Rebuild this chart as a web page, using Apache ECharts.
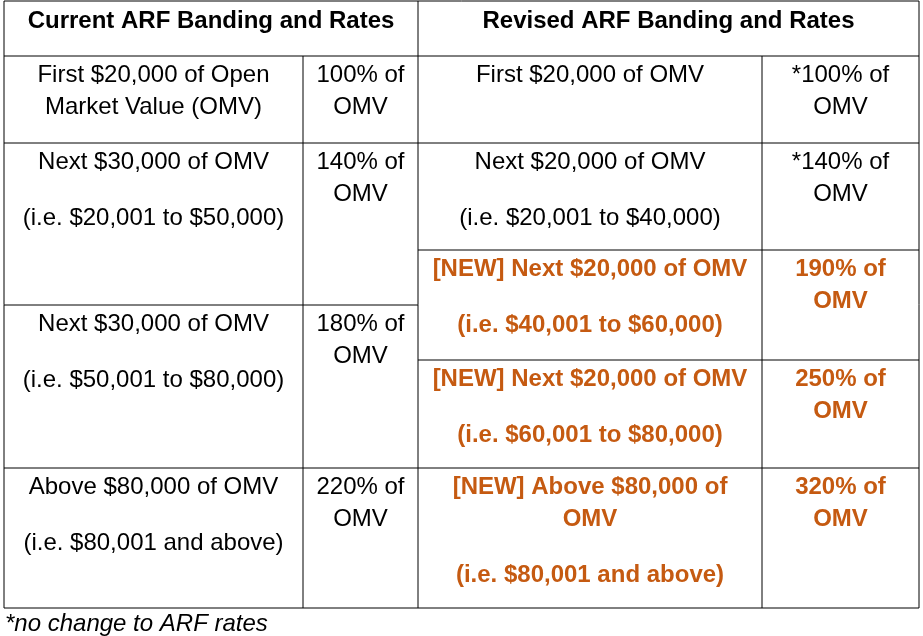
<!DOCTYPE html>
<html><head><meta charset="utf-8">
<script src="https://cdn.jsdelivr.net/npm/echarts@6/dist/echarts.min.js"></script>
<style>html,body{margin:0;padding:0;background:#fff}#main{width:923px;height:636px}</style>
</head><body><div id="main"></div>
<script>
// table grid
var colEdges = [4, 303, 418, 762, 919];
var leftRows = [1, 56, 143, 305, 468, 608];
var rightRows = [1, 56, 143, 250, 360, 468, 608];
var headers = ['Current ARF Banding and Rates', 'Revised ARF Banding and Rates'];
// each cell: \n wraps, | new paragraph
var leftBands = ['First $20,000 of Open\nMarket Value (OMV)', 'Next $30,000 of OMV|(i.e. $20,001 to $50,000)',
  'Next $30,000 of OMV|(i.e. $50,001 to $80,000)', 'Above $80,000 of OMV|(i.e. $80,001 and above)'];
var leftRates = ['100% of\nOMV', '140% of\nOMV', '180% of\nOMV', '220% of\nOMV'];
var rightBands = ['First $20,000 of OMV', 'Next $20,000 of OMV|(i.e. $20,001 to $40,000)',
  '[NEW] Next $20,000 of OMV|(i.e. $40,001 to $60,000)', '[NEW] Next $20,000 of OMV|(i.e. $60,001 to $80,000)',
  '[NEW] Above $80,000 of\nOMV|(i.e. $80,001 and above)'];
var rightRates = ['*100% of\nOMV', '*140% of\nOMV', '190% of\nOMV', '250% of\nOMV', '320% of\nOMV'];
var newBand = [false, false, true, true, true];
var footnote = '*no change to ARF rates';

var orange = '#c55a11';
var els = [];
function line(x1, y1, x2, y2) {
  els.push({type: 'line', shape: {x1: x1, y1: y1, x2: x2, y2: y2}, style: {stroke: '#000', lineWidth: 1}});
}
function cellText(txt, c0, c1, top, bold, color) {
  var y = top + 19;
  txt.split('|').forEach(function (para, pi) {
    if (pi > 0) y += 56;
    para.split('\n').forEach(function (ln, li) {
      if (li > 0) y += 32;
      els.push({type: 'text', x: (colEdges[c0] + colEdges[c1]) / 2, y: y,
        style: {text: ln, fill: color, font: (bold ? 'bold ' : '') + '24px "Liberation Sans", Arial',
          textAlign: 'center', textVerticalAlign: 'middle'}});
    });
  });
}
// borders
line(colEdges[0], 1, colEdges[4], 1);
leftRows.slice(1).forEach(function (y) { line(colEdges[0], y, colEdges[2], y); });
rightRows.slice(1).forEach(function (y) { line(colEdges[2], y, colEdges[4], y); });
line(colEdges[0], 1, colEdges[0], 608);
line(colEdges[2], 1, colEdges[2], 608);
line(colEdges[4], 1, colEdges[4], 608);
line(colEdges[1], 56, colEdges[1], 608);
line(colEdges[3], 56, colEdges[3], 608);
// headers
els.push({type: 'text', x: (colEdges[0] + colEdges[2]) / 2, y: 21, style: {text: headers[0], fill: '#000',
  font: 'bold 24px "Liberation Sans", Arial', textAlign: 'center', textVerticalAlign: 'middle'}});
els.push({type: 'text', x: (colEdges[2] + colEdges[4]) / 2, y: 21, style: {text: headers[1], fill: '#000',
  font: 'bold 24px "Liberation Sans", Arial', textAlign: 'center', textVerticalAlign: 'middle'}});
leftBands.forEach(function (t, i) {
  cellText(t, 0, 1, leftRows[i + 1], false, '#000');
  cellText(leftRates[i], 1, 2, leftRows[i + 1], false, '#000');
});
rightBands.forEach(function (t, i) {
  var c = newBand[i] ? orange : '#000';
  cellText(t, 2, 3, rightRows[i + 1], newBand[i], c);
  cellText(rightRates[i], 3, 4, rightRows[i + 1], newBand[i], c);
});
els.push({type: 'text', x: 5, y: 624, style: {text: footnote, fill: '#000',
  font: 'italic 24px "Liberation Sans", Arial', textAlign: 'left', textVerticalAlign: 'middle'}});

var chart = echarts.init(document.getElementById('main'));
chart.setOption({backgroundColor: '#fff', animation: false, graphic: {elements: els}});
</script></body></html>
